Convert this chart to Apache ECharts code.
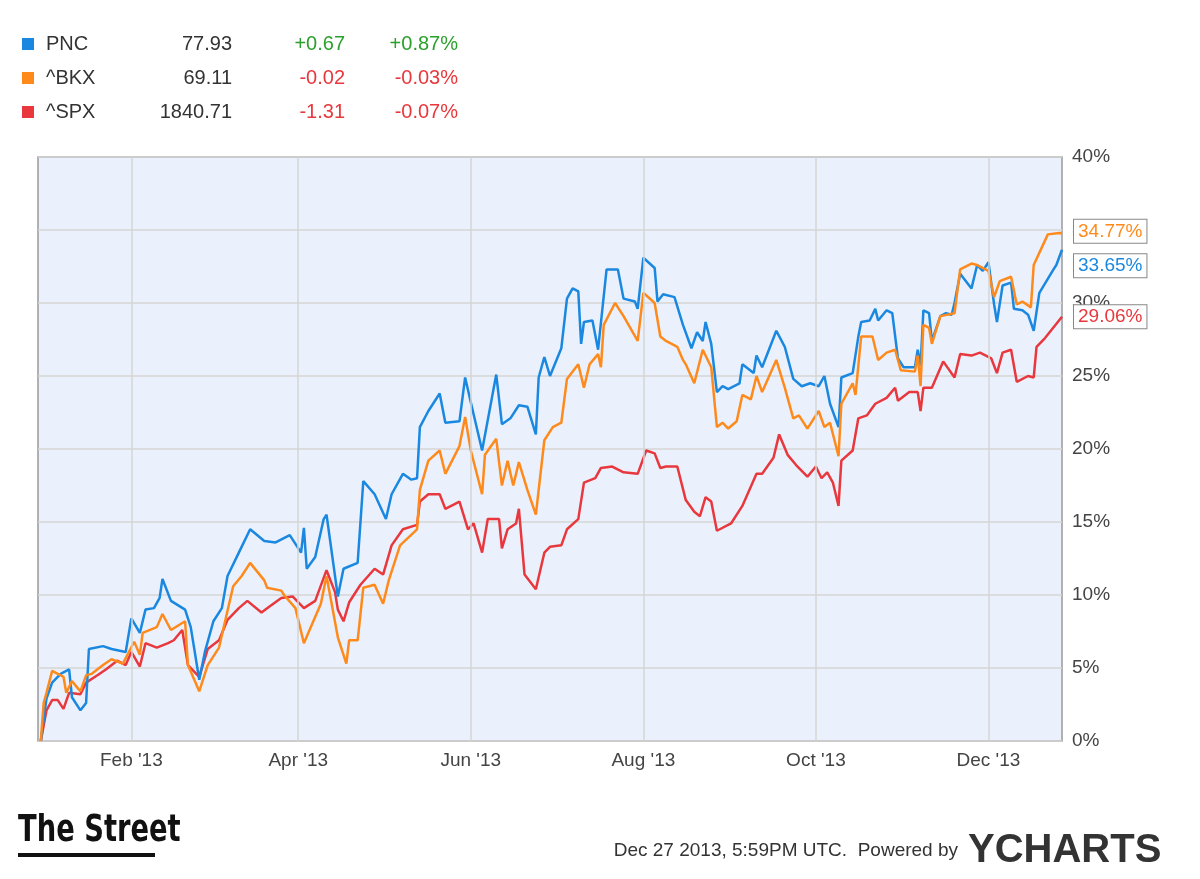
<!DOCTYPE html>
<html><head><meta charset="utf-8">
<script src="https://cdn.jsdelivr.net/npm/echarts@6/dist/echarts.min.js"></script>
<style>html,body{margin:0;padding:0;background:#fff}#c{width:1200px;height:879px}</style>
</head><body><div id="c"></div>
<script>
// day offsets from 2012-12-31
const pncDays = [0,2,4,7,10,11,14,16,17,22,25,30,32,35,37,40,42,43,46,51,53,56,58,61,64,66,70,74,79,83,88,92,93,94,97,100,101,105,107,112,114,118,122,124,128,131,133,134,137,141,143,148,150,152,156,161,163,166,169,172,175,176,178,180,184,186,188,190,191,192,195,197,200,204,206,210,211,213,217,218,220,224,227,230,232,234,235,237,239,241,243,247,248,252,253,255,260,263,266,269,272,275,277,279,282,283,287,289,290,293,295,296,299,301,303,305,309,310,311,312,314,315,318,320,322,323,325,329,331,333,335,337,338,340,343,344,347,349,351,353,358,359,361];
const pncVals = [0,2.9,4,4.6,4.9,3,2.1,2.6,6.3,6.5,6.3,6.1,8.4,7.4,9,9.1,9.8,11.1,9.6,9,7.8,4.2,6.1,8.2,9.1,11.3,12.9,14.5,13.7,13.6,14.1,12.9,14.6,11.8,12.6,15.2,15.5,9.9,11.8,12.2,17.8,16.9,15.2,16.9,18.3,17.9,18,21.5,22.6,23.8,21.8,21.9,24.9,23.2,19.9,25.1,21.7,22.1,23,22.9,21,24.9,26.3,25,26.9,30.3,31,30.8,27.2,28.7,28.8,26.8,32.3,32.3,30.3,30.1,29.6,33.1,32.4,30.1,30.6,30.4,28.5,26.9,28,27.4,28.7,27.2,23.9,24.3,24.1,24.5,25.8,25.2,26.4,25.6,28.1,27,24.8,24.3,24.5,24.3,25,23.1,21.5,24.9,25.2,27.7,28.7,28.8,29.6,28.8,29.5,29.3,26.2,25.6,25.6,26.8,25.7,29.5,29.3,27.4,29.1,29.3,29.2,30,32,31,32.6,32.2,32.8,29.9,28.7,31.2,31.4,29.6,29.5,29.2,28.1,30.7,32.3,32.6,33.65];
const bkxDays = [0,1,2,4,6,8,9,11,14,16,18,22,25,29,33,35,36,41,43,46,51,52,56,59,63,68,71,74,79,80,85,86,90,93,95,99,101,105,108,109,112,114,118,121,123,127,133,134,137,141,143,148,150,152,156,157,161,163,165,167,169,172,175,178,181,184,186,190,192,194,197,198,199,203,206,211,213,217,219,221,225,227,228,231,234,237,239,241,243,246,248,251,253,255,260,263,266,268,271,275,277,279,282,283,287,288,290,294,296,299,302,304,309,310,311,312,314,315,318,323,325,329,331,335,337,339,343,345,347,350,351,356,360,361];
const bkxVals = [0,2.6,3.3,4.8,4.6,4.4,3.3,4.1,3.4,4.5,4.6,5.2,5.6,5.3,6.8,5.9,7.4,7.8,8.7,7.6,8.2,5.2,3.4,5.2,6.4,10.6,11.3,12.2,11,10.5,10.3,10,9.1,6.7,7.6,9.4,11.3,7.1,5.3,6.9,6.9,10.5,10.7,9.4,11,13.4,14.5,17.2,19.2,19.9,18.3,20.2,22.2,19.9,16.9,19.6,20.7,17.5,19.2,17.5,19.1,17.2,15.5,20.6,21.5,21.8,24.8,25.8,24.2,25.8,26.5,25.6,28.5,30,29.1,27.4,30.7,30,27.7,27.4,27,26.1,25.8,24.5,26.8,25.6,21.5,21.8,21.4,21.9,23.7,23.4,25,23.9,26.1,24.2,22.1,22.3,21.4,22.6,21.5,21.8,19.5,23.1,24.5,23.7,27.7,27.7,26.1,26.6,26.8,25.4,25.3,26.4,24.3,28.5,28.3,27.2,29.1,29.3,32.3,32.7,32.6,32.2,30.4,31.5,31.8,29.9,30.1,29.7,32.6,34.7,34.8,34.77];
const spxDays = [0,2,4,6,8,10,14,16,20,23,27,30,32,35,37,41,45,47,50,52,56,59,63,66,70,73,78,80,85,89,93,97,101,104,105,107,109,113,118,121,124,128,133,134,137,141,143,148,151,153,156,158,162,163,165,168,169,171,175,178,180,184,186,190,192,196,198,202,206,211,214,217,219,221,225,228,231,233,235,237,239,244,248,253,255,259,261,264,267,271,274,276,278,280,282,283,287,289,292,295,299,302,303,307,310,311,312,315,319,323,325,329,332,336,338,340,343,345,349,351,352,355,361];
const spxVals = [0,2.1,2.8,2.8,2.2,3.3,3.2,4,4.5,4.9,5.5,5.2,6.1,5.1,6.7,6.4,6.7,6.9,7.6,5.2,4.4,6.3,6.9,8.3,9.1,9.6,8.8,9.1,9.8,9.9,9.1,9.6,11.7,10.2,9,8.2,9.5,10.7,11.8,11.4,13.4,14.5,14.8,16.4,16.9,16.9,15.9,16.4,14.5,14.9,12.9,15.2,15.2,13.2,14.5,14.9,15.9,11.4,10.4,12.9,13.3,13.4,14.5,15.2,17.7,18,18.7,18.8,18.4,18.3,19.9,19.7,18.7,18.8,18.8,16.5,15.7,15.4,16.7,16.4,14.4,14.9,16.1,18.3,18.3,19.4,21,19.6,18.9,18.1,18.8,18,18.4,17.7,16.1,19.2,19.9,22.1,22.3,23.1,23.5,24.2,23.3,23.9,23.9,22.6,24.2,24.2,26,24.9,26.5,26.4,26.6,26.2,25.2,26.6,26.8,24.6,25,24.9,27,27.6,29.06];
const tickDates = ['2013-02-01','2013-04-01','2013-06-01','2013-08-01','2013-10-01','2013-12-01'];
const tickLabels = ["Feb '13","Apr '13","Jun '13","Aug '13","Oct '13","Dec '13"];
const legendRows = [
  {name:'PNC', price:'77.93', chg:'+0.67', pct:'+0.87%', color:'#1a88e0', up:true},
  {name:'^BKX', price:'69.11', chg:'-0.02', pct:'-0.03%', color:'#ff8a1c', up:false},
  {name:'^SPX', price:'1840.71', chg:'-1.31', pct:'-0.07%', color:'#e8383d', up:false}
];

const base = Date.UTC(2012,11,31);
const toTs = d => base + d*86400000;
const mk = (days, vals) => days.map((d,i)=>[toTs(d), vals[i]]);
const FONT = 'Liberation Sans, Arial, sans-serif';

function lineSeries(name, data, color, endText, dy) {
  return {
    name, type:'line', data, showSymbol:false, symbol:'none',
    lineStyle:{color, width:2.5}, itemStyle:{color}, z:3,
    endLabel:{show:true, formatter:endText, color, fontFamily:FONT, fontSize:19,
      backgroundColor:'#fff', borderColor:'#888', borderWidth:1, padding:[3,4,1,4], distance:12, offset:[0,dy]}
  };
}
const chart = echarts.init(document.getElementById('c'));
const graphics = [];
legendRows.forEach((r,i)=>{
  const y = 44 + i*34;
  graphics.push({type:'rect', shape:{x:22,y:y-6,width:12,height:12}, style:{fill:r.color}});
  const st = (x,t,c,align)=>graphics.push({type:'text', x, y, style:{text:t, fill:c, font:'20px '+FONT, textAlign:align, textVerticalAlign:'middle'}});
  st(46, r.name, '#333', 'left');
  st(232, r.price, '#333', 'right');
  const cc = r.up ? '#2ca02c' : '#e8383d';
  st(345, r.chg, cc, 'right');
  st(458, r.pct, cc, 'right');
});
graphics.push({type:'text', x:18, y:812, scaleX:0.72, style:{text:'The Street', fill:'#111', font:'bold 38px "DejaVu Sans", sans-serif'}});
graphics.push({type:'rect', shape:{x:18,y:853,width:137,height:4}, style:{fill:'#111'}});
graphics.push({type:'text', x:958, y:851, style:{text:'Dec 27 2013, 5:59PM UTC.  Powered by', fill:'#333', font:'19px '+FONT, textAlign:'right', textVerticalAlign:'middle'}});
graphics.push({type:'text', x:968, y:851, style:{text:'YCHARTS', fill:'#333', font:'bold 40px '+FONT, textVerticalAlign:'middle'}});

chart.setOption({
  animation:false,
  grid:{left:38, right:138, top:157, bottom:138, show:true, backgroundColor:'#eaf1fc', borderColor:'#999', borderWidth:1.5},
  xAxis:{type:'time', min:Date.UTC(2012,11,30), max:Date.UTC(2013,11,27),
    axisLabel:{show:false}, axisTick:{show:false}, splitLine:{show:false}, axisLine:{show:false}},
  yAxis:{type:'value', position:'right', min:0, max:40, interval:5,
    axisLabel:{formatter:'{value}%', color:'#444', fontFamily:FONT, fontSize:19, margin:10},
    axisLine:{show:false}, axisTick:{show:false}, splitLine:{lineStyle:{color:'#d4d4d4', width:1.5}}},
  graphic: graphics,
  series:[
    {type:'line', data:[], silent:true,
      markLine:{symbol:'none', silent:true, animation:false,
        lineStyle:{color:'#d4d4d4', width:1.5, type:'solid'},
        label:{position:'start', formatter:p=>tickLabels[p.dataIndex], color:'#444', fontFamily:FONT, fontSize:19, distance:10},
        data: tickDates.map(d=>({xAxis:d}))}},
    lineSeries('^SPX', mk(spxDays, spxVals), '#e8383d', '29.06%', 0),
    lineSeries('PNC', mk(pncDays, pncVals), '#1a88e0', '33.65%', 16),
    lineSeries('^BKX', mk(bkxDays, bkxVals), '#ff8a1c', '34.77%', -2)
  ]
});
</script></body></html>
